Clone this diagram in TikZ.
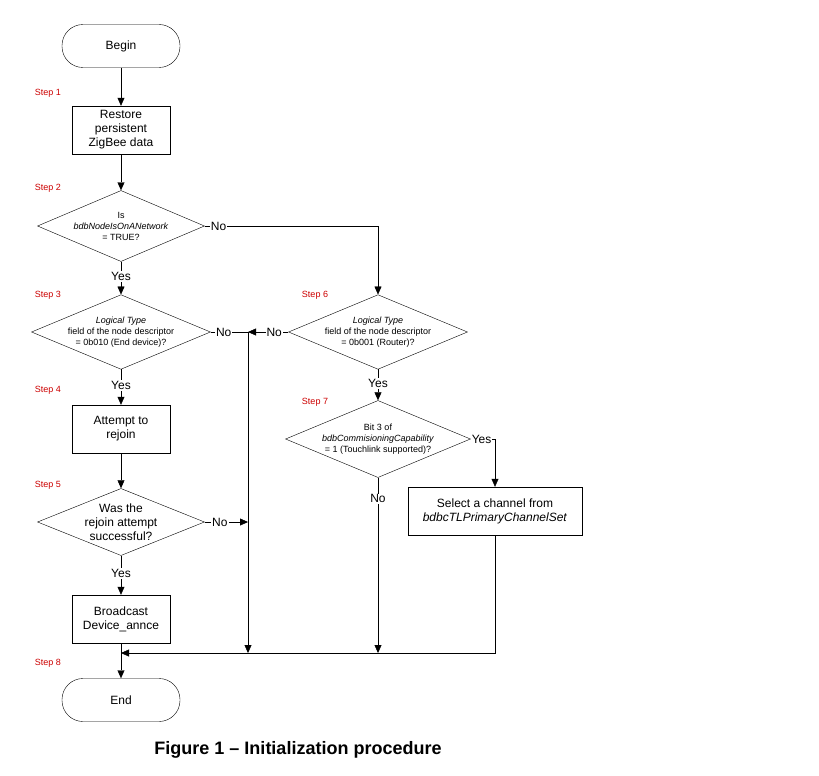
\documentclass[tikz,border=0pt]{standalone}
\usepackage{fontspec}
\setmainfont{Liberation Sans}
\usetikzlibrary{shapes.geometric,arrows.meta}
\begin{document}
\begin{tikzpicture}[x=1pt,y=-1pt,>={Triangle[length=8pt,width=7pt]},
  term/.style={draw,rounded corners=21pt,minimum width=118pt,minimum height=43pt,font=\fontsize{12}{14}\selectfont},
  proc/.style={draw,minimum width=98pt,minimum height=48pt,align=center,font=\fontsize{12}{14}\selectfont},
  dec/.style={draw,diamond,aspect=2.4,inner sep=0pt,align=center,font=\fontsize{9}{11}\selectfont},
  lbl/.style={fill=white,inner sep=1pt,font=\fontsize{12}{14}\selectfont},
  steplbl/.style={text=red!80!black,font=\fontsize{9}{11}\selectfont}]
  \useasboundingbox (0,0) rectangle (819,776);
  % nodes
  \node[term] (begin) at (121,46) {Begin};
  \node[proc] (restore) at (121,130) {Restore\\persistent\\ZigBee data};
  \node[dec,minimum width=167pt,minimum height=71pt] (onnet) at (121,226) {Is\\\textit{bdbNodeIsOnANetwork}\\= TRUE?};
  \node[dec,minimum width=167pt,minimum height=69pt] (enddev) at (121,332) {\textit{Logical Type}\\field of the node descriptor\\= 0b010 (End device)?};
  \node[proc] (rejoin) at (121,429) {Attempt to\\rejoin};
  \node[dec,minimum width=167pt,minimum height=67pt,font=\fontsize{12}{14}\selectfont] (success) at (121,522) {Was the\\rejoin attempt\\successful?};
  \node[proc] (annce) at (121,619) {Broadcast\\Device\_annce};
  \node[term] (end) at (121,700) {End};
  \node[dec,minimum width=169pt,minimum height=69pt] (router) at (378,332) {\textit{Logical Type}\\field of the node descriptor\\= 0b001 (Router)?};
  \node[dec,minimum width=164pt,minimum height=72pt] (touch) at (378,439) {Bit 3 of\\\textit{bdbCommisioningCapability}\\= 1 (Touchlink supported)?};
  \node[proc,minimum width=174pt] (channel) at (495,511) {Select a channel from\\\textit{bdbcTLPrimaryChannelSet}};
  \coordinate (merge) at (248,332);
  \coordinate (join) at (121,653);
  % steps
  \foreach \t/\y in {1/93,2/188,3/295,4/390,5/485,8/663}
    \node[steplbl] at (48,\y) {Step \t};
  \node[steplbl] at (315,295) {Step 6};
  \node[steplbl] at (315,402) {Step 7};
  % connectors
  \draw[->] (begin) -- (restore);
  \draw[->] (restore) -- (onnet);
  \draw[->] (onnet) -- node[lbl,pos=0.45] {Yes} (enddev);
  \draw[->] (enddev) -- node[lbl,pos=0.45] {Yes} (rejoin);
  \draw[->] (rejoin) -- (success);
  \draw[->] (success) -- node[lbl,pos=0.45] {Yes} (annce);
  \draw[->] (annce) -- (end);
  \draw[->] (onnet.east) -- node[lbl,pos=0.08] {No} (378,226) -- (router.north);
  \draw (enddev.east) -- node[lbl,pos=0.35] {No} (merge);
  \draw[->] (router.west) -- node[lbl,pos=0.35] {No} (merge);
  \draw[->] (success.east) -- node[lbl,pos=0.35] {No} (248,522);
  \draw[->] (merge) -- (248,653);
  \draw[->] (router) -- node[lbl,pos=0.45] {Yes} (touch);
  \draw[->] (touch) -- node[lbl,pos=0.12] {No} (378,653);
  \draw[->] (touch.east) -- node[lbl,pos=0.45] {Yes} (495,439) -- (channel.north);
  \draw[->] (channel.south) -- (495,653) -- (join);
  \node[font=\bfseries\fontsize{18}{21}\selectfont] (caption) at (298,750) {Figure 1 – Initialization procedure};
\end{tikzpicture}
\end{document}
